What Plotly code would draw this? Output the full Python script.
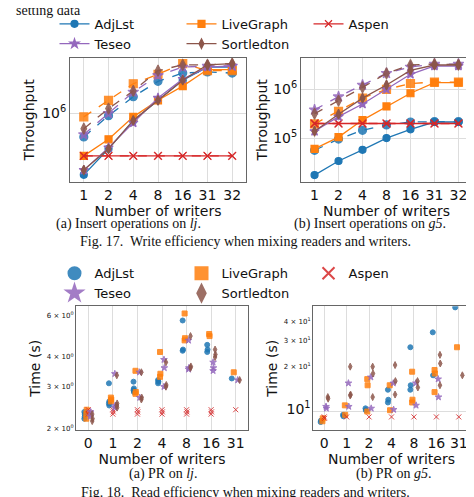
import plotly.graph_objects as go

systems = ["AdjLst", "LiveGraph", "Aspen", "Teseo", "Sortledton"]
colors = ["#1f77b4", "#ff7f0e", "#d62728", "#9467bd", "#8c564b"]
top_symbols = ["circle", "square", "x-thin", "star", "diamond-tall"]
bot_symbols = ["circle", "square", "x-thin", "star", "diamond-tall"]

writers_w = ["1", "2", "4", "8", "16", "31", "32"]

# log10 throughput, insert on lj (solid / dashed)
lj_solid = {
    "AdjLst":     [5.48, 5.70, 5.94, 6.11, 6.28, 6.39, 6.39],
    "LiveGraph":  [5.64, 5.78, 5.97, 6.11, 6.23, 6.37, 6.37],
    "Aspen":      [5.64, 5.64, 5.64, 5.64, 5.64, 5.64, 5.64],
    "Teseo":      [5.52, 5.71, 5.92, 6.13, 6.29, 6.39, 6.40],
    "Sortledton": [5.52, 5.70, 5.94, 6.11, 6.28, 6.41, 6.42],
}
lj_dash = {
    "AdjLst":     [5.80, 5.98, 6.14, 6.27, 6.34, 6.35, 6.34],
    "LiveGraph":  [5.97, 6.11, 6.25, 6.33, 6.42, 6.36, 6.36],
    "Aspen":      [5.64, 5.64, 5.64, 5.64, 5.64, 5.64, 5.64],
    "Teseo":      [5.82, 6.00, 6.18, 6.32, 6.39, 6.40, 6.40],
    "Sortledton": [5.87, 6.04, 6.19, 6.36, 6.41, 6.41, 6.42],
}
# log10 throughput, insert on g5
g5_solid = {
    "AdjLst":     [4.24, 4.53, 4.76, 5.00, 5.18, 5.33, 5.33],
    "LiveGraph":  [4.78, 5.02, 5.37, 5.65, 5.92, 6.14, 6.14],
    "Aspen":      [5.30, 5.30, 5.30, 5.30, 5.30, 5.30, 5.30],
    "Teseo":      [5.14, 5.44, 5.70, 6.00, 6.31, 6.48, 6.48],
    "Sortledton": [5.14, 5.49, 5.82, 6.09, 6.39, 6.50, 6.50],
}
g5_dash = {
    "AdjLst":     [4.75, 4.98, 5.16, 5.27, 5.33, 5.34, 5.34],
    "LiveGraph":  [5.29, 5.55, 5.82, 6.00, 6.12, 6.15, 6.15],
    "Aspen":      [5.30, 5.30, 5.30, 5.30, 5.30, 5.30, 5.30],
    "Teseo":      [5.58, 5.85, 6.09, 6.33, 6.46, 6.52, 6.52],
    "Sortledton": [5.50, 5.77, 6.04, 6.33, 6.50, 6.52, 6.51],
}

readers_w = ["0", "1", "2", "4", "8", "16", "31"]
aspen_lj = [2.3, 2.35, 2.4]
pr_lj = {
    "AdjLst":     [[2.2, 2.3, 2.35, 2.25], [3.1, 2.6, 2.55, 2.5], [3.15, 2.95, 2.9, 2.85], [3.2, 3.15, 3.1], [5.7, 4.3, 4.25], [4.5, 4.3, 4.2], [3.25]],
    "LiveGraph":  [[2.3, 2.4, 2.2], [2.7, 2.65, 2.6], [3.5, 2.85, 2.8], [4.2, 3.4, 3.3], [6.1, 4.8, 4.7], [5.0, 4.9], [3.45]],
    "Aspen":      [aspen_lj, aspen_lj, aspen_lj, aspen_lj, aspen_lj, aspen_lj, [2.4]],
    "Teseo":      [[2.25, 2.35], [3.4, 2.5, 2.45], [3.45, 2.7], [3.9, 3.6, 3.0], [4.7, 3.6, 3.55], [3.8, 3.6, 3.5], [3.2]],
    "Sortledton": [[2.15, 2.2, 2.3], [3.35, 2.55, 2.5, 2.45], [3.45, 2.7, 2.65], [3.8, 3.05, 3.0], [4.9, 3.65, 3.6], [4.3, 4.1, 4.0], [3.2]],
}
pr_g5 = {
    "AdjLst":     [[8.5, 8.7], [9.5, 9.3], [10.5, 10.2], [14, 12, 11.5], [27, 15, 14], [34, 17.5], [50]],
    "LiveGraph":  [[8.6, 9.0], [11, 9.5], [16.5, 15, 10], [15, 10.2], [18.5, 12, 11.5], [19, 18, 13.5], [27]],
    "Aspen":      [[9.2, 9.0], [9.2], [9.2], [9.2], [9.2], [9.2], [9.2]],
    "Teseo":      [[10.8, 10.5], [15.5, 10.8], [17, 10.5], [15.5, 10.3], [15.5, 11], [16.5, 12.5], []],
    "Sortledton": [[12.5, 12.2], [20, 13, 12.8], [20, 18, 12.5], [20.5, 16, 13], [16, 14.5], [24, 21, 15], [17.5]],
}

offsets = [-0.16, -0.08, 0.0, 0.08, 0.16]

fig = go.Figure()

for i, s in enumerate(systems):
    for k, (sd, dd, xa, ya) in enumerate([(lj_solid, lj_dash, "x", "y"), (g5_solid, g5_dash, "x2", "y2")]):
        for data, dash in [(sd, "solid"), (dd, "dash")]:
            fig.add_trace(go.Scatter(
                x=writers_w, y=[10 ** v for v in data[s]], xaxis=xa, yaxis=ya,
                mode="lines+markers", name=s, legend="legend",
                showlegend=(k == 0 and dash == "solid"),
                line=dict(color=colors[i], width=1.3, dash=dash),
                marker=dict(symbol=top_symbols[i], size=7 if dash == "solid" else 8,
                            color=colors[i], opacity=0.85 if dash == "dash" else 1,
                            line=dict(width=1.2, color=colors[i]))))

for i, s in enumerate(systems):
    for k, (data, xa, ya) in enumerate([(pr_lj, "x3", "y3"), (pr_g5, "x4", "y4")]):
        xs, ys = [], []
        for c, vals in enumerate(data[s]):
            for j, v in enumerate(vals):
                xs.append(c + offsets[i] + 0.015 * (j % 2))
                ys.append(v)
        fig.add_trace(go.Scatter(
            x=xs, y=ys, xaxis=xa, yaxis=ya, mode="markers", name=s,
            legend="legend2", showlegend=(k == 0),
            marker=dict(symbol=bot_symbols[i], size=5, color=colors[i], opacity=0.85,
                        line=dict(width=1, color=colors[i]))))

axis_common = dict(showline=True, mirror=True, linecolor="#666", linewidth=1,
                   ticks="", gridcolor="#dddddd", zeroline=False,
                   tickfont=dict(size=14, color="#111"))
W, H = 474, 497

def dom(a, b, total):
    return [a / total, b / total]

xt = dict(text="Number of writers", font=dict(size=14), standoff=2)
fig.update_layout(
    width=W, height=H, margin=dict(l=0, r=0, t=0, b=0),
    paper_bgcolor="white", plot_bgcolor="white",
    font=dict(family="DejaVu Sans", color="#111"),
    xaxis=dict(domain=dom(62, 238, W), type="category", anchor="y", **axis_common, title=xt),
    yaxis=dict(domain=[1 - 175 / H, 1 - 50 / H], type="log", range=[5.42, 6.47], anchor="x",
               tickvals=[1e6], ticktext=["10<sup>6</sup>"], **axis_common,
               title=dict(text="Throughput", font=dict(size=14), standoff=4)),
    xaxis2=dict(domain=dom(293, 464, W), type="category", anchor="y2", **axis_common, title=xt),
    yaxis2=dict(domain=[1 - 175 / H, 1 - 50 / H], type="log", range=[4.10, 6.65], anchor="x2",
                tickvals=[1e5, 1e6], ticktext=["10<sup>5</sup>", "10<sup>6</sup>"], **axis_common,
                title=dict(text="Throughput", font=dict(size=14), standoff=2)),
    xaxis3=dict(domain=dom(68, 240, W), anchor="y3", range=[-0.5, 6.5],
                tickvals=list(range(7)), ticktext=readers_w, **axis_common, title=xt),
    yaxis3=dict(domain=[1 - 425 / H, 1 - 300 / H], type="log", range=[0.293, 0.816], anchor="x3",
                tickvals=[2, 3, 4, 6], showgrid=False,
                ticktext=["2 × 10<sup>0</sup>", "3 × 10<sup>0</sup>", "4 × 10<sup>0</sup>", "6 × 10<sup>0</sup>"],
                **{**axis_common, "tickfont": dict(size=7, color="#111")},
                title=dict(text="Time (s)", font=dict(size=14), standoff=2)),
    xaxis4=dict(domain=dom(305, 462, W), anchor="y4", range=[-0.5, 6.5],
                tickvals=list(range(7)), ticktext=readers_w, **axis_common, title=xt),
    yaxis4=dict(domain=[1 - 425 / H, 1 - 300 / H], type="log", range=[0.873, 1.707], anchor="x4",
                tickvals=[10, 20, 30, 40],
                ticktext=["<span style='font-size:14px'>10<sup>1</sup></span>", "2 × 10<sup>1</sup>",
                          "3 × 10<sup>1</sup>", "4 × 10<sup>1</sup>"],
                **{**axis_common, "tickfont": dict(size=7, color="#111")},
                title=dict(text="Time (s)", font=dict(size=14), standoff=2)),
    legend=dict(orientation="h", x=0.5, xanchor="center", y=1 - 26 / H, yanchor="middle",
                font=dict(size=13), entrywidth=82, itemwidth=30, bgcolor="rgba(0,0,0,0)",
                tracegroupgap=0),
    legend2=dict(orientation="h", x=0.5, xanchor="center", y=1 - 277 / H, yanchor="middle",
                 font=dict(size=13), entrywidth=82, itemwidth=30, bgcolor="rgba(0,0,0,0)",
                 itemsizing="constant"),
)

fig.update_yaxes(showgrid=False, selector=dict(anchor="x4"))
fig.add_shape(type="line", xref="x4 domain", yref="y4", x0=0, x1=1, y0=10, y1=10,
              line=dict(color="#dddddd", width=1), layer="below")

serif = dict(family="Liberation Serif", color="#111")
captions = [
    (120, 217, "(a) Insert operations on <i>lj</i>.", 14),
    (362, 217, "(b) Insert operations on <i>g5</i>.", 14),
    (237, 235, "Fig. 17.  Write efficiency when mixing readers and writers.", 14),
    (155, 469, "(a) PR on <i>lj</i>.", 14),
    (385, 469, "(b) PR on <i>g5</i>.", 14),
    (237, 487, "Fig. 18.  Read efficiency when mixing readers and writers.", 14),
    (40, 3, "setting data", 14),
]
for cx, cy, txt, sz in captions:
    fig.add_annotation(x=cx / W, y=1 - cy / H, xref="paper", yref="paper", text=txt,
                       showarrow=False, xanchor="center", yanchor="middle",
                       font=dict(size=sz, **serif))

fig.write_html("out.html")
